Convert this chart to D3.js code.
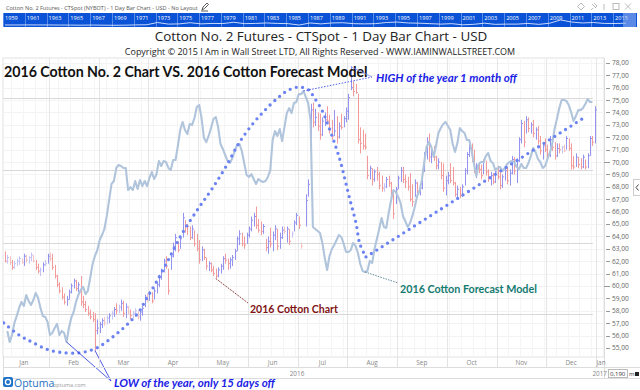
<!DOCTYPE html>
<html><head><meta charset="utf-8">
<script src="https://cdn.jsdelivr.net/npm/d3@7"></script>
<style>body{margin:0;background:#fff}svg{display:block}</style>
</head><body>
<svg id="c" width="640" height="390"></svg>
<script>
// ---------------- DATA ----------------
const months = ["Jan","Feb","Mar","Apr","May","Jun","Jul","Aug","Sep","Oct","Nov","Dec","Jan"];
const daysPerMonth = 21;
const priceTicks = d3.range(55, 79, 1);
const majorPriceTicks = [60, 70];
const overlayGrid = [75.2, 69.35, 63.5, 57.75];
const yearLabels = [1959,1961,1963,1965,1967,1969,1971,1973,1975,1977,1979,1981,1983,1985,1987,1989,1991,1993,1995,1997,1999,2001,2003,2005,2007,2009,2011,2013,2015];
const historyYears = d3.range(1959, 2017);
const historyPrice = [32,31,33,32,32,30,29,27,30,27,25,27,33,36,85,50,55,80,55,65,62,90,60,65,75,65,60,30,75,55,75,80,60,55,60,85,95,75,70,60,50,60,35,45,70,45,50,50,65,45,70,140,95,75,85,65,63,70];

// daily bars, 2016 (trading-day index)
const barHigh = [null,null,62.8,62.5,62.4,62.1,62.0,62.2,62.4,62.2,62.6,62.5,62.4,62.7,62.5,62.1,61.8,61.5,61.9,62.1,
62.6,62.7,62.6,61.7,60.9,60.3,59.9,59.4,59.2,59.7,60.2,60.6,60.5,60.3,60.8,59.2,58.8,58.4,58.1,57.9,
57.8,57.3,57.1,57.4,57.5,57.6,57.8,58.0,58.3,58.6,58.5,58.9,58.8,58.6,58.4,58.1,58.0,58.2,58.0,58.1,
58.4,59.3,59.4,59.6,59.5,59.8,60.3,60.9,61.4,62.2,62.4,61.4,62.6,63.5,64.2,63.6,64.0,65.9,65.3,65.0,
64.8,64.9,64.5,64.2,63.7,63.2,63.0,62.3,62.0,61.9,61.6,61.4,61.5,61.8,62.4,62.6,62.2,62.3,62.5,63.0,
64.0,64.5,64.3,64.0,64.3,64.8,65.6,65.9,66.4,65.4,65.2,65.0,63.8,64.0,64.7,64.4,64.9,64.6,64.3,64.8,
64.8,64.8,64.6,64.4,65.3,65.9,65.6,63.5,null,67.4,68.6,74.7,74.8,74.3,74.0,73.9,73.6,74.0,74.5,73.8,
73.4,74.2,73.7,73.2,73.9,73.7,74.4,75.5,77.7,76.5,76.3,75.5,72.8,72.6,72.3,70.5,69.7,69.5,69.4,69.6,
69.2,68.9,68.3,68.8,68.9,68.4,67.6,68.0,68.9,69.6,69.6,69.0,68.8,69.1,68.2,68.6,68.4,68.1,69.4,70.8,
72.0,72.3,71.2,71.3,70.5,70.3,70.0,69.9,68.9,69.2,69.9,69.6,68.4,68.1,68.0,68.2,69.5,70.8,71.8,71.5,
71.0,69.9,70.0,69.8,70.2,70.1,69.4,69.2,69.1,69.4,69.7,69.3,69.0,69.5,69.6,69.4,70.5,70.4,70.3,72.0,
73.4,73.3,73.7,73.6,73.2,73.4,72.8,72.9,72.1,71.6,71.9,71.4,72.1,72.0,71.6,71.5,71.5,71.3,71.4,72.1,
71.9,71.5,70.5,70.7,70.4,70.3,70.6,70.2,70.7,72.1,72.1,74.5];
const barLow = [null,null,61.9,61.8,61.7,61.3,61.4,61.6,61.7,61.8,61.6,61.9,61.8,62.0,61.9,61.3,61.0,60.8,61.1,61.6,
61.8,62.0,61.3,60.6,59.9,59.4,58.9,58.5,58.4,58.9,59.4,59.8,59.6,59.5,58.4,58.2,57.9,57.6,57.3,57.1,
54.8,56.1,56.2,56.6,56.8,56.9,57.0,57.3,57.5,57.7,57.8,58.0,57.5,57.4,57.7,57.3,57.4,57.5,57.3,57.2,
57.6,58.3,58.7,58.8,58.6,58.9,59.4,59.9,60.5,61.1,61.4,59.3,61.3,62.3,62.8,62.7,63.0,63.9,64.3,64.1,
63.7,63.8,63.2,62.8,61.8,62.0,62.1,61.3,61.2,61.1,60.8,60.6,60.7,61.0,61.3,61.8,61.3,61.4,61.6,62.1,
62.8,63.3,63.2,63.0,63.4,63.9,64.4,64.8,64.6,64.3,64.1,64.2,62.8,62.6,63.1,62.8,63.7,62.9,63.0,63.8,
64.2,63.5,63.3,63.9,64.4,64.9,64.6,63.0,null,64.8,67.2,70.7,72.8,72.9,72.5,71.8,72.1,72.9,73.1,72.3,
71.8,72.1,71.5,71.9,72.6,72.8,73.2,73.4,75.8,75.3,75.5,71.5,70.7,71.0,71.0,68.6,68.6,68.1,68.4,68.5,
67.8,67.6,67.6,67.9,68.0,67.3,65.4,66.6,67.8,68.4,68.3,67.9,67.7,66.8,66.4,67.2,67.4,67.3,67.8,69.2,
70.2,70.0,69.9,70.1,69.4,69.4,68.6,67.6,67.3,68.2,68.3,68.1,67.2,67.0,67.1,67.2,68.1,69.0,70.4,70.0,
69.1,68.7,69.1,68.6,69.0,68.9,68.4,68.1,68.2,68.3,68.6,67.8,67.9,68.5,68.2,68.1,69.0,69.0,68.3,70.0,
71.5,71.2,72.3,72.4,72.3,72.0,71.8,71.4,70.6,70.2,70.8,70.3,70.4,70.9,70.2,70.4,70.7,70.7,70.8,71.0,
70.9,69.4,69.4,69.6,69.5,69.4,69.5,69.4,69.5,70.5,71.3,71.5];
const barClose = [null,null,62.0,62.3,61.9,61.5,61.8,62.0,62.2,61.9,62.4,62.1,62.3,62.5,62.0,61.5,61.2,61.3,61.7,61.8,
62.4,62.2,61.5,60.8,60.1,59.6,59.1,58.7,58.9,59.5,60.0,60.4,59.8,60.1,58.7,58.5,58.1,57.8,57.5,57.3,
56.4,56.6,56.9,57.2,57.0,57.4,57.6,57.8,58.1,58.0,58.3,58.6,57.8,58.3,57.9,57.6,57.8,58.0,57.5,57.9,
58.2,59.1,58.9,59.4,58.8,59.6,60.1,60.7,61.2,62.0,61.6,59.6,62.4,63.2,63.9,62.9,63.8,65.5,64.9,64.8,
63.9,64.6,63.4,63.0,62.1,62.9,62.3,61.6,61.8,61.3,61.0,60.8,61.3,61.6,62.2,62.1,61.8,62.1,62.3,62.8,
63.8,64.2,63.4,63.3,64.1,64.6,65.3,65.6,64.9,64.5,64.4,64.8,63.1,63.6,63.4,64.1,64.6,63.2,63.9,64.5,
64.4,64.6,63.6,64.2,65.1,65.7,64.9,63.2,null,66.9,68.2,74.2,73.2,73.6,72.9,72.2,73.3,73.4,73.3,72.6,
72.1,72.5,72.0,72.9,72.8,73.5,74.1,75.2,76.0,75.7,75.6,71.8,71.5,71.3,71.2,68.9,69.5,68.6,69.2,69.0,
68.1,67.9,68.0,68.6,68.3,67.5,65.8,67.8,68.7,69.3,68.6,68.4,68.0,67.0,66.8,68.3,67.6,67.9,69.2,70.5,
71.6,70.4,70.9,70.4,69.7,70.0,68.9,67.9,68.5,68.9,68.5,68.3,67.4,67.8,67.3,68.0,69.3,70.6,71.4,70.3,
69.4,69.7,69.4,68.9,70.0,69.2,68.7,68.9,68.4,69.2,68.8,68.1,68.8,69.3,68.5,69.1,70.2,69.3,70.1,71.8,
73.1,71.6,73.4,72.7,73.0,72.3,72.6,71.7,70.9,71.3,71.0,70.6,71.8,71.2,70.5,71.1,71.0,71.2,70.9,71.9,
71.1,69.7,69.6,70.4,69.8,69.6,70.4,69.6,70.5,71.9,71.6,74.2];

// forecast model (steel-blue line), same day index
const forecast = [null,null,null,56.37,55.48,56.05,57.02,57.58,58.23,58.71,58.39,59.27,58.79,58.47,58.87,59.44,59.03,58.23,57.58,57.5,
57.1,56.05,56.21,56.61,56.94,56.05,56.37,56.21,55.48,56.61,57.42,57.9,58.71,59.27,59.68,59.92,59.35,59.6,60.65,61.77,
62.42,62.9,63.71,64.11,64.6,65.65,66.94,68.23,68.47,69.52,69.76,69.68,69.52,69.52,67.74,67.98,67.74,68.47,67.82,68.55,
68.06,68.47,68.06,68.71,69.19,68.63,69.03,70.08,69.68,70.08,70.0,69.52,69.35,70.16,70.16,71.29,72.58,73.23,72.58,72.26,
73.06,72.98,73.55,74.44,74.6,73.55,71.94,71.61,72.1,72.74,73.47,73.63,72.82,71.45,71.05,70.56,70.08,69.92,70.32,70.89,
71.37,71.45,70.89,69.92,68.95,68.79,69.03,68.63,68.23,68.63,68.47,68.39,68.47,68.79,69.35,71.77,72.5,72.1,72.66,71.69,
72.82,73.95,74.35,73.95,74.76,74.84,75.48,75.48,75.73,75.24,74.76,73.39,64.76,64.6,64.44,64.27,63.47,62.26,61.29,62.42,
62.98,63.31,63.71,64.11,63.95,63.39,62.74,62.74,62.9,63.47,63.23,62.66,61.77,61.21,61.13,61.21,62.02,61.85,62.98,63.79,
64.6,65.48,64.76,64.68,65.89,66.94,67.74,67.58,67.18,66.69,65.65,65.24,64.76,65.08,65.65,66.37,67.26,67.66,68.55,70.0,
71.21,71.61,71.21,70.4,71.37,72.34,72.74,73.06,73.23,72.9,72.58,71.45,70.81,71.53,72.74,72.5,72.34,71.77,71.77,70.89,
69.84,68.87,69.84,70.0,70.0,70.48,70.73,70.08,69.92,69.35,69.52,69.6,69.27,69.52,69.84,70.0,70.08,70.0,69.6,69.44,
69.84,69.52,69.52,69.92,70.48,71.13,70.81,70.24,70.0,69.52,69.68,70.24,70.73,71.45,72.66,73.47,74.35,75.0,75.0,74.92,
74.6,74.03,73.31,73.71,74.19,74.19,74.35,74.68,75.08,74.84,74.84,null];

// hand-drawn dotted model path (day, price)
const modelDay =   [2.0,8.4,13.9,21.0,28.2,33.7,37.9,42.1,46.4,50.6,54.8,59.0,62.4,66.2,71.7,77.2,84.3,89.8,95.7,101.2,106.7,112.3,118.1,122.3,126.6,130.8,132.9,136.3,139.2,142.2,144.3,146.4,148.5,150.7,152.3,154.9];
const modelPrice = [57.02,56.05,55.48,54.84,54.6,54.6,54.76,55.08,55.65,56.29,57.02,57.9,59.03,60.24,62.2,64.2,66.3,67.8,69.6,71.5,72.98,74.19,75.24,75.81,76.05,75.81,75.24,74.19,72.82,71.21,69.92,68.31,66.69,65.08,63.4,62.34];
const trendDay = [154.9, 247.4];
const trendPrice = [62.34, 73.63];

// ---------------- CHART ----------------
const svg = d3.select("#c");
const P = {left:3, right:604, top:58, bottom:357};
const x = d3.scaleLinear().domain([0, 252]).range([-1, 596]);
const y = d3.scaleLinear().domain([54.35, 78.23]).range([356, 60]);
const fmt = d3.formatLocale({decimal:",", thousands:".", grouping:[3], currency:["",""]}).format(".2f");

function fit(sel, w){ const l = sel.node().getComputedTextLength(); if(l>0){ sel.attr("font-size", parseFloat(sel.attr("font-size"))*w/l);} return sel; }

svg.append("rect").attr("width",640).attr("height",390).attr("fill","#fff");

// header
fit(svg.append("text").attr("x",6).attr("y",10).attr("font-family","Open Sans").attr("font-size",7.5).attr("fill","#555")
  .text("Cotton No. 2 Futures - CTSpot (NYBOT) - 1 Day Bar Chart - USD - No Layout"), 192);
svg.append("path").attr("d","M202,10 l1,-3 l4,-4 l1.5,1.5 l-4,4 z M201,11 h7").attr("fill","none").attr("stroke","#333").attr("stroke-width",0.8);
const ic = svg.append("g").attr("stroke","#aaa").attr("fill","none").attr("stroke-width",0.8);
ic.append("path").attr("d","M581,3 l3.5,3.5 l-3.5,3.5 l-3.5,-3.5 z");
ic.append("path").attr("d","M592,4 l4,4 M594,3 l3,3 l-2,2 M591,10 l2,-2");
ic.append("path").attr("d","M604,4 v6");
ic.append("rect").attr("x",613).attr("y",3.5).attr("width",6).attr("height",6);
ic.append("path").attr("d","M625,3.5 l6,6 M631,3.5 l-6,6");

// overview band
const band = svg.append("g");
band.append("rect").attr("x",3).attr("y",13).attr("width",634).attr("height",14).attr("fill","#0a52d6");
const hx = d3.scaleLinear().domain([1959, 2016]).range([5, 626]);
const hy = d3.scaleLinear().domain([20, 150]).range([25.5, 19.5]);
band.selectAll("line.sep").data(yearLabels).join("line").attr("x1",d=>Math.round(hx(d))-1.5).attr("x2",d=>Math.round(hx(d))-1.5)
  .attr("y1",13).attr("y2",27).attr("stroke","#5b8be6").attr("stroke-width",1);
band.selectAll("text").data(yearLabels).join("text").attr("x",d=>hx(d)).attr("y",19.5)
  .attr("font-family","Open Sans").attr("font-size",5.6).attr("fill","#fff").text(d=>d);
band.append("path").datum(historyPrice).attr("d", d3.line().x((d,i)=>hx(historyYears[i])).y(d=>hy(d)))
  .attr("fill","none").attr("stroke","#dfe8ff").attr("stroke-width",0.9);
band.append("rect").attr("x",623).attr("y",13).attr("width",13).attr("height",14).attr("fill","#8fb0ee").attr("opacity",0.6);

// titles
fit(svg.append("text").attr("x",321).attr("y",41).attr("text-anchor","middle").attr("font-family","Open Sans").attr("font-size",14).attr("fill","#222")
  .text("Cotton No. 2 Futures - CTSpot - 1 Day Bar Chart - USD"), 333);
fit(svg.append("text").attr("x",320).attr("y",55).attr("text-anchor","middle").attr("font-family","Open Sans").attr("font-size",9).attr("fill","#222")
  .text("Copyright \u00a9 2015 I Am in Wall Street LTD, All Rights Reserved  -  WWW.IAMINWALLSTREET.COM"), 391);

// plot frame & grid
const g = svg.append("g");
g.append("rect").attr("x",P.left).attr("y",P.top).attr("width",P.right-P.left).attr("height",P.bottom-P.top)
  .attr("fill","#fff").attr("stroke","#e2e2e2");
svg.append("clipPath").attr("id","clip").append("rect").attr("x",P.left).attr("y",P.top).attr("width",P.right-P.left).attr("height",P.bottom-P.top);
const pg = g.append("g").attr("clip-path","url(#clip)");
pg.selectAll("line.minh").data(priceTicks).join("line").attr("x1",P.left).attr("x2",P.right)
  .attr("y1",d=>Math.round(y(d))+0.5).attr("y2",d=>Math.round(y(d))+0.5).attr("stroke","#f3f3f3");
pg.selectAll("line.minv").data(d3.range(5, 252, 5)).join("line").attr("y1",P.top).attr("y2",P.bottom)
  .attr("x1",d=>Math.round(x(d))+0.5).attr("x2",d=>Math.round(x(d))+0.5).attr("stroke","#f5f5f5");
pg.selectAll("line.monv").data(d3.range(1, 13)).join("line").attr("y1",P.top).attr("y2",P.bottom)
  .attr("x1",d=>Math.round(x(d*daysPerMonth))+0.5).attr("x2",d=>Math.round(x(d*daysPerMonth))+0.5).attr("stroke","#e6e6e6");
pg.selectAll("line.ovh").data(overlayGrid).join("line").attr("x1",P.left).attr("x2",593)
  .attr("y1",d=>Math.round(y(d))+0.5).attr("y2",d=>Math.round(y(d))+0.5).attr("stroke","#d8d8d8");

// bars
const bars = d3.range(barHigh.length).filter(i => barHigh[i] != null).map(i => {
  let prev = null; for (let j=i-1;j>=0;j--) if (barClose[j]!=null){prev=barClose[j];break;}
  return {i, hi:barHigh[i], lo:barLow[i], cl:barClose[i], up: prev==null ? false : barClose[i] >= prev,
          pale: (barHigh[i]-barLow[i]) < 0.75};
});
const col = d => d.up ? (d.pale ? "#c4c4f6" : "#9494f0") : (d.pale ? "#f7c2c2" : "#f39a9a");
const bg = pg.append("g");
bg.selectAll("line.bar").data(bars).join("line")
  .attr("x1",d=>Math.round(x(d.i+0.5))+0.5).attr("x2",d=>Math.round(x(d.i+0.5))+0.5)
  .attr("y1",d=>y(d.hi)).attr("y2",d=>y(d.lo))
  .attr("stroke",col).attr("stroke-width",1);
bg.selectAll("line.cl").data(bars).join("line")
  .attr("x1",d=>Math.round(x(d.i+0.5))+1).attr("x2",d=>Math.round(x(d.i+0.5))+2)
  .attr("y1",d=>y(d.cl)).attr("y2",d=>y(d.cl))
  .attr("stroke",col).attr("stroke-width",1);

// forecast line
pg.append("path").datum(forecast)
  .attr("d", d3.line().defined(d=>d!=null).x((d,i)=>x(i+0.5)).y(d=>y(d)))
  .attr("fill","none").attr("stroke","#b0c4dc").attr("stroke-width",2.1).attr("stroke-linejoin","round");

// dotted model
const modelPts = modelDay.map((d,i)=>[d, modelPrice[i]]);
pg.append("path").datum(modelPts).attr("d", d3.line().curve(d3.curveCatmullRom.alpha(0.5)).x(d=>x(d[0])).y(d=>y(d[1])))
  .attr("fill","none").attr("stroke","#6b82f2").attr("stroke-width",3.3).attr("stroke-dasharray","0 6.4").attr("stroke-linecap","round");
pg.append("path").datum(trendDay.map((d,i)=>[d, trendPrice[i]])).attr("d", d3.line().x(d=>x(d[0])).y(d=>y(d[1])))
  .attr("fill","none").attr("stroke","#6b82f2").attr("stroke-width",3.3).attr("stroke-dasharray","0 6.4").attr("stroke-linecap","round");

// plot title
fit(svg.append("text").attr("x",4).attr("y",77).attr("font-family","Lato").attr("font-weight","bold").attr("font-size",16).attr("fill","#111")
  .text("2016 Cotton No. 2 Chart VS. 2016 Cotton Forecast Model"), 364);

// annotations
const ann = svg.append("g");
const hiPt = [372, 77];
ann.append("line").attr("x1",x(128.5)).attr("y1",y(forecast[128])).attr("x2",hiPt[0]).attr("y2",hiPt[1]).attr("stroke","#3b4df0").attr("stroke-width",0.9).attr("stroke-dasharray","1.5 1.5");
ann.append("line").attr("x1",x(148.5)).attr("y1",y(barHigh[148])).attr("x2",hiPt[0]).attr("y2",hiPt[1]).attr("stroke","#7d88f0").attr("stroke-width",0.8);
fit(ann.append("text").attr("x",376).attr("y",82).attr("font-family","Lato").attr("font-weight","bold").attr("font-style","italic").attr("font-size",12.5).attr("fill","#1a22e6")
  .text("HIGH of the year 1 month off"), 141);

const loPt = [111, 381];
ann.append("line").attr("x1",x(28.5)).attr("y1",y(forecast[28])).attr("x2",loPt[0]).attr("y2",loPt[1]).attr("stroke","#2233dd").attr("stroke-width",0.8);
ann.append("line").attr("x1",x(40.5)).attr("y1",y(barLow[40])).attr("x2",loPt[0]).attr("y2",loPt[1]).attr("stroke","#2233dd").attr("stroke-width",0.8);

ann.append("line").attr("x1",x(91.5)).attr("y1",y(barLow[91])).attr("x2",248).attr("y2",303).attr("stroke","#7a1a1a").attr("stroke-width",0.8).attr("stroke-dasharray","2 1");
fit(ann.append("text").attr("x",250).attr("y",313).attr("font-family","Lato").attr("font-weight","bold").attr("font-size",12).attr("fill","#7f1414")
  .text("2016 Cotton Chart"), 88);
ann.append("line").attr("x1",x(154.5)).attr("y1",y(forecast[154])).attr("x2",398).attr("y2",283).attr("stroke","#3c6f80").attr("stroke-width",0.8).attr("stroke-dasharray","1.5 1.2");
fit(ann.append("text").attr("x",400).attr("y",293).attr("font-family","Lato").attr("font-weight","bold").attr("font-size",12).attr("fill","#157a70")
  .text("2016 Cotton Forecast Model"), 137);

// right axis
const ra = svg.append("g");
ra.append("line").attr("x1",P.right+0.5).attr("x2",P.right+0.5).attr("y1",P.top).attr("y2",378).attr("stroke","#ddd");
ra.selectAll("line.t").data(priceTicks).join("line")
  .attr("x1",d=>majorPriceTicks.includes(d)?P.right:606).attr("x2",610)
  .attr("y1",d=>Math.round(y(d))+0.5).attr("y2",d=>Math.round(y(d))+0.5).attr("stroke","#999");
ra.selectAll("text").data(priceTicks).join("text").attr("x",612).attr("y",d=>y(d)+2.5)
  .attr("font-family","Open Sans").attr("font-size",6.6).attr("fill","#666").text(d=>fmt(d));
ra.append("rect").attr("x",633.5).attr("y",179.5).attr("width",7).attr("height",16).attr("fill","#fff").attr("stroke","#ccc");
ra.append("path").attr("d","M638.5,184.5 l-2.5,3 l2.5,3").attr("fill","none").attr("stroke","#444").attr("stroke-width",1);

// bottom axis
const ba = svg.append("g");
ba.append("line").attr("x1",P.left).attr("x2",640).attr("y1",367.5).attr("y2",367.5).attr("stroke","#ddd");
ba.append("line").attr("x1",P.left).attr("x2",640).attr("y1",378.5).attr("y2",378.5).attr("stroke","#ddd");
ba.append("line").attr("x1",P.left+0.5).attr("x2",P.left+0.5).attr("y1",P.bottom).attr("y2",378.5).attr("stroke","#ddd");
ba.selectAll("line.mt").data(d3.range(1, 13)).join("line")
  .attr("x1",d=>Math.round(x(d*daysPerMonth))+0.5).attr("x2",d=>Math.round(x(d*daysPerMonth))+0.5)
  .attr("y1",P.bottom).attr("y2",367).attr("stroke","#e2e2e2");
ba.selectAll("text.m").data(months).join("text")
  .attr("x",(d,i)=> i<12 ? x(i*daysPerMonth + daysPerMonth/2) : 601).attr("y",364.5).attr("text-anchor","middle")
  .attr("font-family","Open Sans").attr("font-size",6.4).attr("fill","#888").text(d=>d);
ba.append("text").attr("x",297).attr("y",375.5).attr("text-anchor","middle").attr("font-family","Open Sans").attr("font-size",6.4).attr("fill","#888").text("2016");
ba.append("text").attr("x",607).attr("y",375.5).attr("text-anchor","end").attr("font-family","Open Sans").attr("font-size",6.4).attr("fill","#888").text("2017");
ba.append("rect").attr("x",608.5).attr("y",369.5).attr("width",19).attr("height",8).attr("fill","#fff").attr("stroke","#bbb");
ba.append("text").attr("x",610).attr("y",376).attr("font-family","Open Sans").attr("font-size",6).attr("fill","#333").text("0,190");
ba.append("text").attr("x",629).attr("y",376).attr("font-family","Open Sans").attr("font-size",6).attr("fill","#333").text("m");
ba.append("rect").attr("x",635).attr("y",372).attr("width",4).attr("height",4).attr("fill","#222");

// LOW text (drawn after axis)
fit(svg.append("text").attr("x",114).attr("y",387).attr("font-family","Lato").attr("font-weight","bold").attr("font-style","italic").attr("font-size",13).attr("fill","#1a22e6")
  .text("LOW of the year, only 15 days off"), 161);

// Optuma logo
const lg = svg.append("g");
lg.append("rect").attr("x",3).attr("y",377).attr("width",10).attr("height",10).attr("rx",2).attr("fill","#1e73c8");
lg.append("circle").attr("cx",8).attr("cy",382).attr("r",2.6).attr("fill","none").attr("stroke","#fff").attr("stroke-width",1.3);
lg.append("text").attr("x",14).attr("y",386.5).attr("font-family","Open Sans").attr("font-size",10.5).attr("fill","#2a6fc4").text("Optuma");
lg.append("text").attr("x",53).attr("y",386.5).attr("font-family","Open Sans").attr("font-size",5.5).attr("fill","#999").text("optuma.com");
</script>
</body></html>
